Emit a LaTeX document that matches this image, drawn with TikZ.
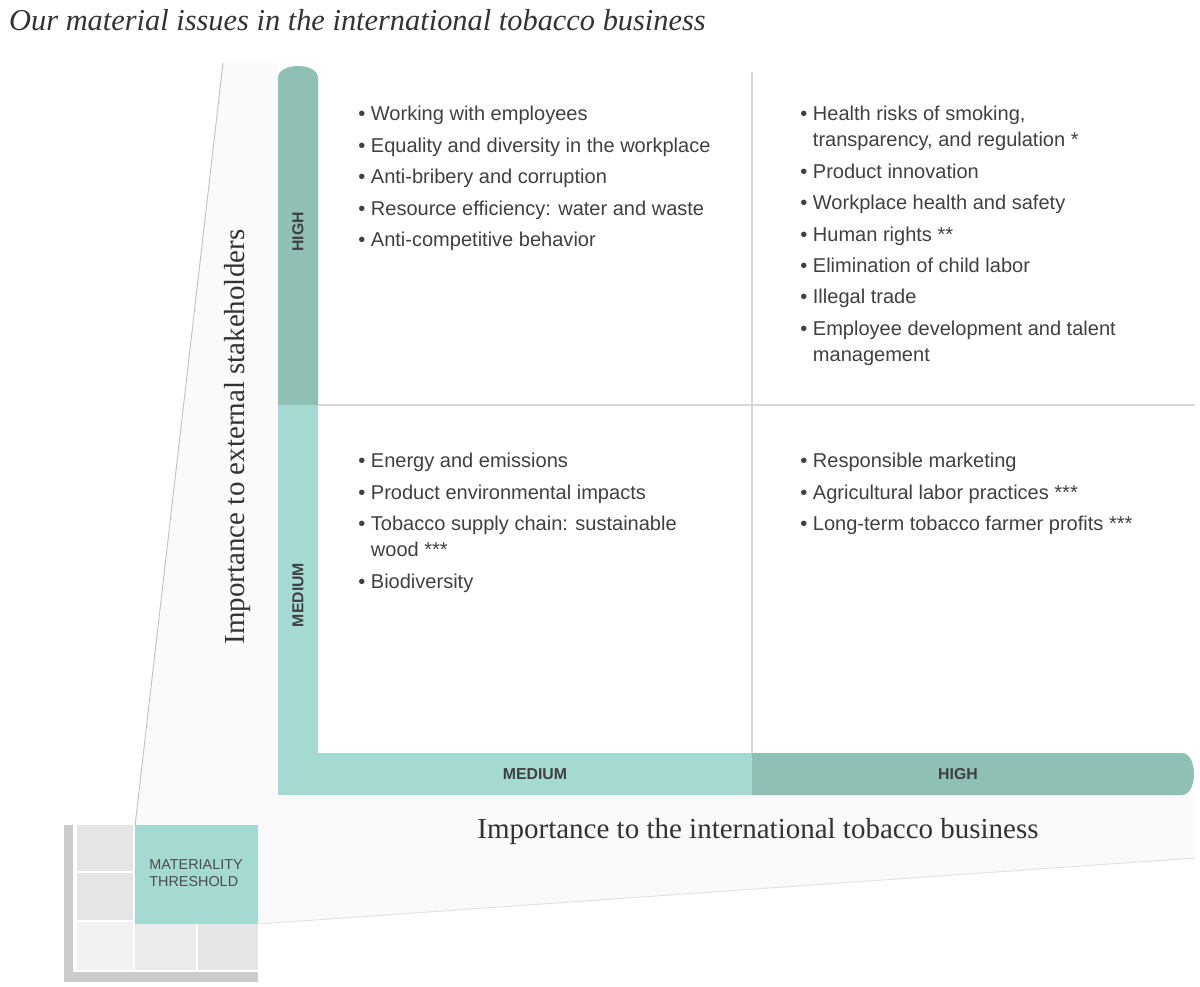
\documentclass[tikz,border=0pt]{standalone}
\usepackage{fontspec}
\setmainfont{Liberation Sans}
\newfontfamily\serifit{Liberation Serif}
\begin{document}
\begin{tikzpicture}[x=0.02cm,y=-0.02cm,
  item/.style={anchor=north west,font=\fontsize{11.4}{14.7}\selectfont,text=black!75,align=left,inner sep=0pt},
  barlbl/.style={font=\bfseries\fontsize{9}{10}\selectfont,text=black!75},
  gridl/.style={draw=black!15,line width=0.6pt},
  cell/.style={fill=black!10,draw=none}]
\definecolor{tdark}{HTML}{8FC0B6}
\definecolor{tlight}{HTML}{A4DAD2}
\useasboundingbox (0,0) rectangle (1200,987);
% fan background
\fill[black!2] (223,63) -- (135,826) -- (258,924) -- (1195,858) -- (1195,795) -- (278,795) -- (278,63) -- cycle;
\draw[black!25,line width=0.5pt] (223,63) -- (135,826);
\draw[black!12,line width=0.5pt] (258,924) -- (1195,858);
% title
\node[anchor=west,font=\serifit\itshape\fontsize{17.3}{19}\selectfont,text=black!80] (title) at (3,20) {Our material issues in the international tobacco business};
% bars
\fill[tdark] (278,405) -- (278,78) .. controls (278,62) and (318,62) .. (318,78) -- (318,405) -- cycle;
\fill[tlight] (278,405) rectangle (318,795);
\fill[tlight] (318,753) rectangle (752,795);
\fill[tdark] (752,753) -- (1182,753) .. controls (1198,753) and (1198,795) .. (1182,795) -- (752,795) -- cycle;
% grid
\draw[gridl] (752,72) -- (752,753);
\draw[gridl] (318,405) -- (1195,405);
% bar labels
\node[barlbl,rotate=90] (lh) at (298,232) {HIGH};
\node[barlbl,rotate=90] (lm) at (298,595) {MEDIUM};
\node[barlbl] (bm) at (535,774) {MEDIUM};
\node[barlbl] (bh) at (958,774) {HIGH};
% axis labels
\node[rotate=90,font=\serifit\fontsize{16.5}{18}\selectfont,text=black!80] (ya) at (238,437) {Importance to external stakeholders};
\node[font=\serifit\fontsize{16.5}{18}\selectfont,text=black!80] (xa) at (758,832) {Importance to the international tobacco business};
% items
\node[item] (q1) at (358,106) {%
\textbullet\ Working with employees\\[3.2pt]
\textbullet\ Equality and diversity in the workplace\\[3.2pt]
\textbullet\ Anti-bribery and corruption\\[3.2pt]
\textbullet\ Resource efficiency: water and waste\\[3.2pt]
\textbullet\ Anti-competitive behavior};
\node[item] (q2) at (800,106) {%
\textbullet\ Health risks of smoking,\\
\phantom{\textbullet\ }transparency, and regulation *\\[3.2pt]
\textbullet\ Product innovation\\[3.2pt]
\textbullet\ Workplace health and safety\\[3.2pt]
\textbullet\ Human rights **\\[3.2pt]
\textbullet\ Elimination of child labor\\[3.2pt]
\textbullet\ Illegal trade\\[3.2pt]
\textbullet\ Employee development and talent\\
\phantom{\textbullet\ }management};
\node[item] (q3) at (358,453) {%
\textbullet\ Energy and emissions\\[3.2pt]
\textbullet\ Product environmental impacts\\[3.2pt]
\textbullet\ Tobacco supply chain: sustainable\\
\phantom{\textbullet\ }wood ***\\[3.2pt]
\textbullet\ Biodiversity};
\node[item] (q4) at (800,453) {%
\textbullet\ Responsible marketing\\[3.2pt]
\textbullet\ Agricultural labor practices ***\\[3.2pt]
\textbullet\ Long-term tobacco farmer profits ***};
% small matrix
\fill[black!20] (64,825) rectangle (73,982);
\fill[black!20] (64,972) rectangle (258,982);
\fill[cell] (77,825) rectangle (133,871);
\fill[cell] (77,873) rectangle (133,920);
\fill[black!5] (77,922) rectangle (133,970);
\fill[black!8] (135,922) rectangle (196,970);
\fill[cell] (198,922) rectangle (258,970);
\fill[tlight] (135,825) rectangle (258,924);
\node[font=\fontsize{8.2}{9.5}\selectfont,text=black!70,align=left] (mt) at (196,873) {MATERIALITY\\THRESHOLD};
\end{tikzpicture}
\end{document}
